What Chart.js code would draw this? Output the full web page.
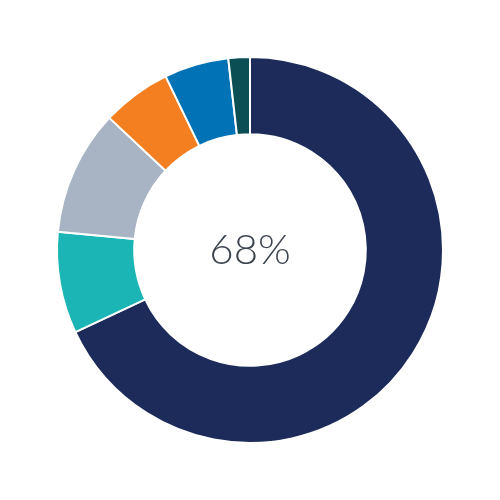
<!DOCTYPE html>
<html>
<head>
<script src="https://cdn.jsdelivr.net/npm/chart.js@4"></script>
<style>
  body { margin: 0; background: #fff; }
  #wrap { width: 500px; height: 500px; }
</style>
</head>
<body>
<div id="wrap"><canvas id="c"></canvas></div>
<script>
const categories = ["A", "B", "C", "D", "E", "F"];
const values = [68, 8.5, 10.5, 5.8, 5.4, 1.8];
const colors = ["#1c2b5a", "#1bb5b5", "#a8b4c4", "#f47f20", "#0072b5", "#0b4f55"];
const centerLabel = "68%";

// text in the hole
const centerText = {
  id: "centerText",
  afterDraw(chart) {
    const ctx = chart.ctx;
    const meta = chart.getDatasetMeta(0).data[0];
    ctx.save();
    ctx.font = "300 42px Lato";
    ctx.fillStyle = "#3d4550";
    ctx.textAlign = "center";
    ctx.textBaseline = "middle";
    ctx.fillText(centerLabel, meta.x, meta.y);
    ctx.restore();
  }
};

new Chart(document.getElementById("c"), {
  type: "doughnut",
  data: {
    labels: categories,
    datasets: [{
      data: values,
      backgroundColor: colors,
      borderColor: "#fff",
      borderWidth: 2
    }]
  },
  options: {
    responsive: true,
    maintainAspectRatio: false,
    animation: false,
    cutout: "60%",
    layout: { padding: 56 },
    plugins: { legend: { display: false }, tooltip: { enabled: false } }
  },
  plugins: [centerText]
});
</script>
</body>
</html>
